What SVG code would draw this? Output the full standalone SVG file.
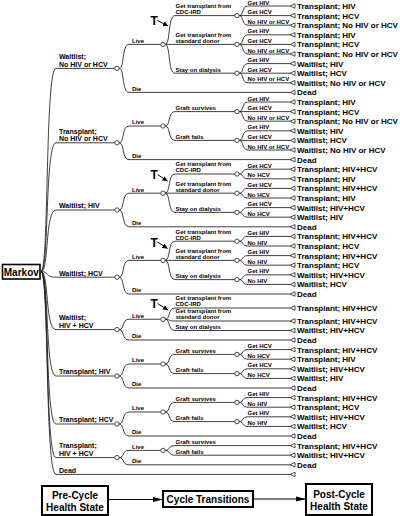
<svg xmlns="http://www.w3.org/2000/svg" xmlns:xlink="http://www.w3.org/1999/xlink" width="400" height="516" viewBox="0 0 400 516">
<style>
.ln{fill:none;stroke:#1e1e1e;stroke-width:0.85}
.nd{fill:#fff;stroke:#1e1e1e;stroke-width:0.8}
text{font-family:"Liberation Sans",Arial,sans-serif;font-weight:bold;fill:#000}
.tl{font-size:8px}
.sl{font-size:7px}
.bl{font-size:6px}
.lg{font-size:10px;text-anchor:middle}
.mk{font-size:10px;text-anchor:middle}
.tt{font-size:12px}
.bx{fill:#fff;stroke:#000;stroke-width:2}
.ar{fill:none;stroke:#000;stroke-width:1}
</style>
<defs>
<circle id="c" r="2.2" class="nd"/>
<path id="tm" d="M0,0 L5,-2.3 L5,2.3 Z" class="nd"/>
<marker id="ah" markerWidth="6" markerHeight="5" refX="5" refY="2.5" orient="auto" markerUnits="userSpaceOnUse"><path d="M0,0 L5,2.5 L0,5 Z" fill="#000"/></marker>
<marker id="ah2" markerWidth="11" markerHeight="6" refX="10" refY="3" orient="auto" markerUnits="userSpaceOnUse"><path d="M0,0.5 L10,3 L0,5.5 Z" fill="#000"/></marker>
</defs>

<g id="connectors">
<path class="ln" d="M41,271.5 C49.2,271.5 44.8,68.4 56,68.4 H114.8"/>
<path class="ln" d="M41,271.5 C49.2,271.5 44.8,142.8 56,142.8 H114.8"/>
<path class="ln" d="M41,271.5 C49.2,271.5 44.8,210 56,210 H114.8"/>
<path class="ln" d="M41,271.5 C49.2,271.5 44.8,277.2 56,277.2 H114.8"/>
<path class="ln" d="M41,271.5 C49.2,271.5 44.8,329.6 56,329.6 H114.8"/>
<path class="ln" d="M41,271.5 C49.2,271.5 44.8,376 56,376 H114.8"/>
<path class="ln" d="M41,271.5 C49.2,271.5 44.8,424 56,424 H114.8"/>
<path class="ln" d="M41,271.5 C49.2,271.5 44.8,457.6 56,457.6 H114.8"/>
<path class="ln" d="M41,271.5 C49.2,271.5 44.8,474.4 56,474.4 H290"/>

<path class="ln" d="M119.2,68.4 C124.6,68.4 121.7,44.4 129,44.4 H160.8"/>
<path class="ln" d="M119.2,68.4 C124.6,68.4 121.7,92.4 129,92.4 H290"/>
<path class="ln" d="M119.2,142.8 C124.6,142.8 121.7,126 129,126 H160.8"/>
<path class="ln" d="M119.2,142.8 C124.6,142.8 121.7,159.6 129,159.6 H290"/>
<path class="ln" d="M119.2,210 C124.6,210 121.7,193.2 129,193.2 H160.8"/>
<path class="ln" d="M119.2,210 C124.6,210 121.7,226.8 129,226.8 H290"/>
<path class="ln" d="M119.2,277.2 C124.6,277.2 121.7,260.4 129,260.4 H160.8"/>
<path class="ln" d="M119.2,277.2 C124.6,277.2 121.7,294 129,294 H290"/>
<path class="ln" d="M119.2,329.6 C124.6,329.6 121.7,319.25 129,319.25 H160.8"/>
<path class="ln" d="M119.2,329.6 C124.6,329.6 121.7,340 129,340 H290"/>
<path class="ln" d="M119.2,376 C124.6,376 121.7,364 129,364 H160.8"/>
<path class="ln" d="M119.2,376 C124.6,376 121.7,388 129,388 H290"/>
<path class="ln" d="M119.2,424 C124.6,424 121.7,412 129,412 H160.8"/>
<path class="ln" d="M119.2,424 C124.6,424 121.7,436 129,436 H290"/>
<path class="ln" d="M119.2,457.6 C124.6,457.6 121.7,450.4 129,450.4 H160.8"/>
<path class="ln" d="M119.2,457.6 C124.6,457.6 121.7,464.8 129,464.8 H290"/>

<path class="ln" d="M165.2,44.4 C170.6,44.4 167.7,15.6 175,15.6 H234.8"/>
<path class="ln" d="M165.2,44.4 H234.8"/>
<path class="ln" d="M165.2,44.4 C170.6,44.4 167.7,73.2 175,73.2 H234.8"/>
<path class="ln" d="M165.2,126 C170.6,126 167.7,111.6 175,111.6 H234.8"/>
<path class="ln" d="M165.2,126 C170.6,126 167.7,140.4 175,140.4 H234.8"/>
<path class="ln" d="M165.2,193.2 C170.6,193.2 167.7,174 175,174 H234.8"/>
<path class="ln" d="M165.2,193.2 H234.8"/>
<path class="ln" d="M165.2,193.2 C170.6,193.2 167.7,212.4 175,212.4 H234.8"/>
<path class="ln" d="M165.2,260.4 C170.6,260.4 167.7,241.2 175,241.2 H234.8"/>
<path class="ln" d="M165.2,260.4 H234.8"/>
<path class="ln" d="M165.2,260.4 C170.6,260.4 167.7,279.6 175,279.6 H234.8"/>
<path class="ln" d="M165.2,319.25 C170.6,319.25 167.7,308 175,308 H290"/>
<path class="ln" d="M165.2,319.25 C170.6,319.25 167.7,321 175,321 H290"/>
<path class="ln" d="M165.2,319.25 C170.6,319.25 167.7,330.5 175,330.5 H290"/>
<path class="ln" d="M165.2,364 C170.6,364 167.7,354.4 175,354.4 H234.8"/>
<path class="ln" d="M165.2,364 C170.6,364 167.7,373.6 175,373.6 H234.8"/>
<path class="ln" d="M165.2,412 C170.6,412 167.7,402.4 175,402.4 H234.8"/>
<path class="ln" d="M165.2,412 C170.6,412 167.7,421.6 175,421.6 H234.8"/>
<path class="ln" d="M165.2,450.4 C170.6,450.4 167.7,445.6 175,445.6 H290"/>
<path class="ln" d="M165.2,450.4 C170.6,450.4 167.7,455.2 175,455.2 H290"/>

<path class="ln" d="M239.2,15.6 C244,15.6 241.4,6 248,6 H290 M239.2,15.6 H290 M239.2,15.6 C244,15.6 241.4,25.2 248,25.2 H290"/>
<path class="ln" d="M239.2,44.4 C244,44.4 241.4,34.8 248,34.8 H290 M239.2,44.4 H290 M239.2,44.4 C244,44.4 241.4,54 248,54 H290"/>
<path class="ln" d="M239.2,73.2 C244,73.2 241.4,63.6 248,63.6 H290 M239.2,73.2 H290 M239.2,73.2 C244,73.2 241.4,82.8 248,82.8 H290"/>
<path class="ln" d="M239.2,111.6 C244,111.6 241.4,102 248,102 H290 M239.2,111.6 H290 M239.2,111.6 C244,111.6 241.4,121.2 248,121.2 H290"/>
<path class="ln" d="M239.2,140.4 C244,140.4 241.4,130.8 248,130.8 H290 M239.2,140.4 H290 M239.2,140.4 C244,140.4 241.4,150 248,150 H290"/>
<path class="ln" d="M239.2,174 C244,174 241.4,169.2 248,169.2 H290 M239.2,174 C244,174 241.4,178.8 248,178.8 H290"/>
<path class="ln" d="M239.2,193.2 C244,193.2 241.4,188.4 248,188.4 H290 M239.2,193.2 C244,193.2 241.4,198 248,198 H290"/>
<path class="ln" d="M239.2,212.4 C244,212.4 241.4,207.6 248,207.6 H290 M239.2,212.4 C244,212.4 241.4,217.2 248,217.2 H290"/>
<path class="ln" d="M239.2,241.2 C244,241.2 241.4,236.4 248,236.4 H290 M239.2,241.2 C244,241.2 241.4,246 248,246 H290"/>
<path class="ln" d="M239.2,260.4 C244,260.4 241.4,255.6 248,255.6 H290 M239.2,260.4 C244,260.4 241.4,265.2 248,265.2 H290"/>
<path class="ln" d="M239.2,279.6 C244,279.6 241.4,274.8 248,274.8 H290 M239.2,279.6 C244,279.6 241.4,284.4 248,284.4 H290"/>
<path class="ln" d="M239.2,354.4 C244,354.4 241.4,349.6 248,349.6 H290 M239.2,354.4 C244,354.4 241.4,359.2 248,359.2 H290"/>
<path class="ln" d="M239.2,373.6 C244,373.6 241.4,368.8 248,368.8 H290 M239.2,373.6 C244,373.6 241.4,378.4 248,378.4 H290"/>
<path class="ln" d="M239.2,402.4 C244,402.4 241.4,397.6 248,397.6 H290 M239.2,402.4 C244,402.4 241.4,407.2 248,407.2 H290"/>
<path class="ln" d="M239.2,421.6 C244,421.6 241.4,416.8 248,416.8 H290 M239.2,421.6 C244,421.6 241.4,426.4 248,426.4 H290"/>

<line class="ar" x1="157.5" y1="20.5" x2="168" y2="26" marker-end="url(#ah)"/>
<line class="ar" x1="157.5" y1="174.5" x2="167.5" y2="181" marker-end="url(#ah)"/>
<line class="ar" x1="157.5" y1="242" x2="167.5" y2="248.5" marker-end="url(#ah)"/>
<line class="ar" x1="157.5" y1="303.5" x2="168" y2="310" marker-end="url(#ah)"/>
<line class="ar" x1="108" y1="499.5" x2="163" y2="499.5" stroke-width="1.2" marker-end="url(#ah2)"/>
<line class="ar" x1="253" y1="499" x2="306" y2="499" stroke-width="1.2" marker-end="url(#ah2)"/>
</g>

<g id="branch-labels" class="bl">
<text x="132" y="42.8">Live</text><text x="132" y="90.8">Die</text>
<text x="132" y="124.4">Live</text><text x="132" y="158">Die</text>
<text x="132" y="191.6">Live</text><text x="132" y="225.2">Die</text>
<text x="132" y="258.8">Live</text><text x="132" y="292.4">Die</text>
<text x="132" y="317.6">Live</text><text x="132" y="338.4">Die</text>
<text x="132" y="362.4">Live</text><text x="132" y="386.4">Die</text>
<text x="132" y="410.4">Live</text><text x="132" y="434.4">Die</text>
<text x="132" y="448.8">Live</text><text x="132" y="463.2">Die</text>

<text x="175.5" y="8">Get transplant from</text><text x="175.5" y="14">CDC-IRD</text>
<text x="175.5" y="36.8">Get transplant from</text><text x="175.5" y="42.8">standard donor</text>
<text x="175.5" y="71.6">Stay on dialysis</text>
<text x="175.5" y="110">Graft survives</text>
<text x="175.5" y="138.8">Graft fails</text>
<text x="175.5" y="166.4">Get transplant from</text><text x="175.5" y="172.4">CDC-IRD</text>
<text x="175.5" y="185.6">Get transplant from</text><text x="175.5" y="191.6">standard donor</text>
<text x="175.5" y="210.8">Stay on dialysis</text>
<text x="175.5" y="233.6">Get transplant from</text><text x="175.5" y="239.6">CDC-IRD</text>
<text x="175.5" y="252.8">Get transplant from</text><text x="175.5" y="258.8">standard donor</text>
<text x="175.5" y="278">Stay on dialysis</text>
<text x="175.5" y="300.4">Get transplant from</text><text x="175.5" y="306.4">CDC-IRD</text>
<text x="175.5" y="313.4">Get transplant from</text><text x="175.5" y="319.4">standard donor</text>
<text x="175.5" y="328.9">Stay on dialysis</text>
<text x="175.5" y="352.8">Graft survives</text>
<text x="175.5" y="372">Graft fails</text>
<text x="175.5" y="400.8">Graft survives</text>
<text x="175.5" y="420">Graft fails</text>
<text x="175.5" y="444">Graft survives</text>
<text x="175.5" y="453.6">Graft fails</text>

<text x="247.5" y="4.6">Get HIV</text><text x="247.5" y="14.2">Get HCV</text><text x="247.5" y="23.8">No HIV or HCV</text>
<text x="247.5" y="33.4">Get HIV</text><text x="247.5" y="43">Get HCV</text><text x="247.5" y="52.6">No HIV or HCV</text>
<text x="247.5" y="62.2">Get HIV</text><text x="247.5" y="71.8">Get HCV</text><text x="247.5" y="81.4">No HIV or HCV</text>
<text x="247.5" y="100.6">Get HIV</text><text x="247.5" y="110.2">Get HCV</text><text x="247.5" y="119.8">No HIV or HCV</text>
<text x="247.5" y="129.4">Get HIV</text><text x="247.5" y="139">Get HCV</text><text x="247.5" y="148.6">No HIV or HCV</text>
<text x="247.5" y="167.8">Get HCV</text><text x="247.5" y="177.4">No HCV</text>
<text x="247.5" y="187">Get HCV</text><text x="247.5" y="196.6">No HCV</text>
<text x="247.5" y="206.2">Get HCV</text><text x="247.5" y="215.8">No HCV</text>
<text x="247.5" y="235">Get HIV</text><text x="247.5" y="244.6">No HIV</text>
<text x="247.5" y="254.2">Get HIV</text><text x="247.5" y="263.8">No HIV</text>
<text x="247.5" y="273.4">Get HIV</text><text x="247.5" y="283">No HIV</text>
<text x="247.5" y="348.2">Get HCV</text><text x="247.5" y="357.8">No HCV</text>
<text x="247.5" y="367.4">Get HCV</text><text x="247.5" y="377">No HCV</text>
<text x="247.5" y="396.2">Get HIV</text><text x="247.5" y="405.8">No HIV</text>
<text x="247.5" y="415.4">Get HIV</text><text x="247.5" y="425">No HIV</text>
</g>

<g id="t-markers" class="tt">
<text x="150.5" y="25">T</text>
<text x="150.5" y="179">T</text>
<text x="150.5" y="246.5">T</text>
<text x="150.5" y="308">T</text>
</g>

<g id="markov">
<rect x="2.5" y="264.5" width="37.5" height="14.5" fill="#fff" stroke="#000" stroke-width="1.6"/>
<text class="mk" x="21.3" y="275.6">Markov</text>
</g>

<g id="state-1" class="sl"><text x="59" y="59.4">Waitlist;</text><text x="59" y="66.9">No HIV or HCV</text><use href="#c" x="117" y="68.4"/></g>
<g id="state-2" class="sl"><text x="59" y="133.8">Transplant;</text><text x="59" y="141.3">No HIV or HCV</text><use href="#c" x="117" y="142.8"/></g>
<g id="state-3" class="sl"><text x="59" y="208.3">Waitlist; HIV</text><use href="#c" x="117" y="210"/></g>
<g id="state-4" class="sl"><text x="59" y="275.5">Waitlist; HCV</text><use href="#c" x="117" y="277.2"/></g>
<g id="state-5" class="sl"><text x="59" y="319.6">Waitlist;</text><text x="59" y="327.9">HIV + HCV</text><use href="#c" x="117" y="329.6"/></g>
<g id="state-6" class="sl"><text x="59" y="374.4">Transplant; HIV</text><use href="#c" x="117" y="376"/></g>
<g id="state-7" class="sl"><text x="59" y="422.4">Transplant; HCV</text><use href="#c" x="117" y="424"/></g>
<g id="state-8" class="sl"><text x="59" y="447.6">Transplant;</text><text x="59" y="456">HIV + HCV</text><use href="#c" x="117" y="457.6"/></g>
<g id="state-9" class="sl"><text x="59" y="472.8">Dead</text></g>

<g id="live-nodes">
<use href="#c" x="163" y="44.4"/><use href="#c" x="163" y="126"/><use href="#c" x="163" y="193.2"/><use href="#c" x="163" y="260.4"/>
<use href="#c" x="163" y="319.25"/><use href="#c" x="163" y="364"/><use href="#c" x="163" y="412"/><use href="#c" x="163" y="450.4"/>
</g>
<g id="event-nodes">
<use href="#c" x="237" y="15.6"/><use href="#c" x="237" y="44.4"/><use href="#c" x="237" y="73.2"/>
<use href="#c" x="237" y="111.6"/><use href="#c" x="237" y="140.4"/>
<use href="#c" x="237" y="174"/><use href="#c" x="237" y="193.2"/><use href="#c" x="237" y="212.4"/>
<use href="#c" x="237" y="241.2"/><use href="#c" x="237" y="260.4"/><use href="#c" x="237" y="279.6"/>
<use href="#c" x="237" y="354.4"/><use href="#c" x="237" y="373.6"/>
<use href="#c" x="237" y="402.4"/><use href="#c" x="237" y="421.6"/>
</g>

<g id="terminals" class="tl">
<use href="#tm" x="290" y="6"/><text x="297" y="8.9">Transplant; HIV</text>
<use href="#tm" x="290" y="15.6"/><text x="297" y="18.5">Transplant; HCV</text>
<use href="#tm" x="290" y="25.2"/><text x="297" y="28.1">Transplant; No HIV or HCV</text>
<use href="#tm" x="290" y="34.8"/><text x="297" y="37.7">Transplant; HIV</text>
<use href="#tm" x="290" y="44.4"/><text x="297" y="47.3">Transplant; HCV</text>
<use href="#tm" x="290" y="54"/><text x="297" y="56.9">Transplant; No HIV or HCV</text>
<use href="#tm" x="290" y="63.6"/><text x="297" y="66.5">Waitlist; HIV</text>
<use href="#tm" x="290" y="73.2"/><text x="297" y="76.1">Waitlist; HCV</text>
<use href="#tm" x="290" y="82.8"/><text x="297" y="85.7">Waitlist; No HIV or HCV</text>
<use href="#tm" x="290" y="92.4"/><text x="297" y="95.3">Dead</text>
<use href="#tm" x="290" y="102"/><text x="297" y="104.9">Transplant; HIV</text>
<use href="#tm" x="290" y="111.6"/><text x="297" y="114.5">Transplant; HCV</text>
<use href="#tm" x="290" y="121.2"/><text x="297" y="124.1">Transplant; No HIV or HCV</text>
<use href="#tm" x="290" y="130.8"/><text x="297" y="133.7">Waitlist; HIV</text>
<use href="#tm" x="290" y="140.4"/><text x="297" y="143.3">Waitlist; HCV</text>
<use href="#tm" x="290" y="150"/><text x="297" y="152.9">Waitlist; No HIV or HCV</text>
<use href="#tm" x="290" y="159.6"/><text x="297" y="162.5">Dead</text>
<use href="#tm" x="290" y="169.2"/><text x="297" y="172.1">Transplant; HIV+HCV</text>
<use href="#tm" x="290" y="178.8"/><text x="297" y="181.7">Transplant; HIV</text>
<use href="#tm" x="290" y="188.4"/><text x="297" y="191.3">Transplant; HIV+HCV</text>
<use href="#tm" x="290" y="198"/><text x="297" y="200.9">Transplant; HIV</text>
<use href="#tm" x="290" y="207.6"/><text x="297" y="210.5">Waitlist; HIV+HCV</text>
<use href="#tm" x="290" y="217.2"/><text x="297" y="220.1">Waitlist; HIV</text>
<use href="#tm" x="290" y="226.8"/><text x="297" y="229.7">Dead</text>
<use href="#tm" x="290" y="236.4"/><text x="297" y="239.3">Transplant; HIV+HCV</text>
<use href="#tm" x="290" y="246"/><text x="297" y="248.9">Transplant; HCV</text>
<use href="#tm" x="290" y="255.6"/><text x="297" y="258.5">Transplant; HIV+HCV</text>
<use href="#tm" x="290" y="265.2"/><text x="297" y="268.1">Transplant; HCV</text>
<use href="#tm" x="290" y="274.8"/><text x="297" y="277.7">Waitlist; HIV+HCV</text>
<use href="#tm" x="290" y="284.4"/><text x="297" y="287.3">Waitlist; HCV</text>
<use href="#tm" x="290" y="294"/><text x="297" y="296.9">Dead</text>
<use href="#tm" x="290" y="308"/><text x="297" y="310.9">Transplant; HIV+HCV</text>
<use href="#tm" x="290" y="321"/><text x="297" y="323.9">Transplant; HIV+HCV</text>
<use href="#tm" x="290" y="330.5"/><text x="297" y="333.4">Waitlist; HIV+HCV</text>
<use href="#tm" x="290" y="340"/><text x="297" y="342.9">Dead</text>
<use href="#tm" x="290" y="349.6"/><text x="297" y="352.5">Transplant; HIV+HCV</text>
<use href="#tm" x="290" y="359.2"/><text x="297" y="362.1">Transplant; HIV</text>
<use href="#tm" x="290" y="368.8"/><text x="297" y="371.7">Waitlist; HIV+HCV</text>
<use href="#tm" x="290" y="378.4"/><text x="297" y="381.3">Waitlist; HIV</text>
<use href="#tm" x="290" y="388"/><text x="297" y="390.9">Dead</text>
<use href="#tm" x="290" y="397.6"/><text x="297" y="400.5">Transplant; HIV+HCV</text>
<use href="#tm" x="290" y="407.2"/><text x="297" y="410.1">Transplant; HCV</text>
<use href="#tm" x="290" y="416.8"/><text x="297" y="419.7">Waitlist; HIV+HCV</text>
<use href="#tm" x="290" y="426.4"/><text x="297" y="429.3">Waitlist; HCV</text>
<use href="#tm" x="290" y="436"/><text x="297" y="438.9">Dead</text>
<use href="#tm" x="290" y="445.6"/><text x="297" y="448.5">Transplant; HIV+HCV</text>
<use href="#tm" x="290" y="455.2"/><text x="297" y="458.1">Waitlist; HIV+HCV</text>
<use href="#tm" x="290" y="464.8"/><text x="297" y="467.7">Dead</text>
<use href="#tm" x="290" y="474.4"/>
</g>

<g id="legend-pre"><rect class="bx" x="42" y="486" width="66" height="29"/><text class="lg" x="75" y="498.5">Pre-Cycle</text><text class="lg" x="75" y="510.5">Health State</text></g>
<g id="legend-cycle"><rect class="bx" x="163" y="491" width="90" height="16"/><text class="lg" x="208" y="502.8">Cycle Transitions</text></g>
<g id="legend-post"><rect class="bx" x="306" y="484" width="66" height="31"/><text class="lg" x="339" y="497.5">Post-Cycle</text><text class="lg" x="339" y="509.5">Health State</text></g>
</svg>
